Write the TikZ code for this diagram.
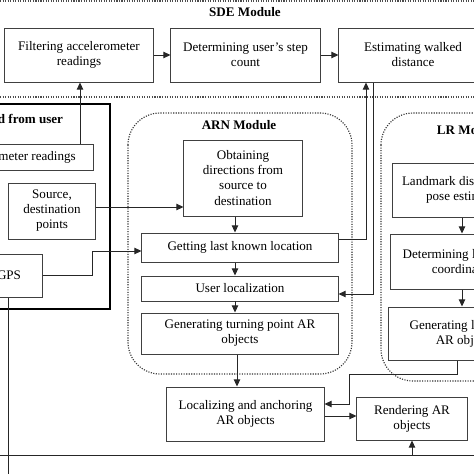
\documentclass[tikz,border=0pt]{standalone}
\usepackage{fontspec}
\setmainfont{Liberation Serif}
\usetikzlibrary{arrows.meta}

\begin{document}
\begin{tikzpicture}[x=0.025cm,y=-0.025cm,
    font=\fontsize{9.3}{10.7}\selectfont,
    box/.style={draw=black!75,line width=0.7pt,align=center,inner sep=1pt},
    title/.style={font=\fontsize{9.3}{10.7}\selectfont\bfseries},
    module/.style={draw=black!80,densely dotted,line width=0.8pt,rounded corners=0.8cm},
    sep/.style={draw=black!70,densely dotted,line width=0.8pt},
    wire/.style={draw=black!85,line width=0.7pt},
    arr/.style={wire,-{Triangle[length=5pt,width=4.5pt]}}]
    \useasboundingbox (0,0) rectangle (474,474);
    \clip (0,0) rectangle (474,474);

    % SDE module
    \draw[sep] (0,1) -- (474,1);
    \draw[sep] (0,97) -- (474,97);
    \node[title] (sdeT) at (245,12) {SDE Module};
    \node[box,minimum width=3.7cm,minimum height=1.35cm] (filt) at (79,55) {Filtering accelerometer\\readings};
    \node[box,minimum width=3.725cm,minimum height=1.35cm] (step) at (245.5,55) {Determining user's step\\count};
    \node[box,minimum width=3.7cm,minimum height=1.35cm] (dist) at (413,55) {Estimating walked\\distance};
    \draw[arr] (filt) -- (step);
    \draw[arr] (step) -- (dist);

    % inputs from user
    \draw[black,line width=1.3pt] (-100,104) rectangle (110,309);
    \node[title,anchor=east] (userT) at (68,119) {Data obtained from user};
    \node[box,minimum width=3.975cm,minimum height=0.65cm] (accel) at (13.5,157) {Accelerometer readings};
    \node[box,minimum width=2.15cm,minimum height=1.4cm] (src) at (52,211) {Source,\\destination\\points};
    \node[box,minimum width=1.65cm,minimum height=1.075cm] (gps) at (9,275.5) {GPS};

    % ARN module
    \draw[module] (128,113) rectangle (352,374);
    \node[title] (arnT) at (239,125) {ARN Module};
    \node[box,minimum width=2.95cm,minimum height=1.9cm] (obtain) at (243,178) {Obtaining\\directions from\\source to\\destination};
    \node[box,minimum width=4.9cm,minimum height=0.725cm] (last) at (240,247.5) {Getting last known location};
    \node[box,minimum width=4.9cm,minimum height=0.625cm] (loc) at (240,288.5) {User localization};
    \node[box,minimum width=4.9cm,minimum height=1.025cm] (turn) at (240,333.5) {Generating turning point AR\\objects};
    \node[box,minimum width=3.925cm,minimum height=1.35cm] (anc) at (245.5,414) {Localizing and anchoring\\AR objects};
    \node[box,minimum width=2.75cm,minimum height=1.075cm] (render) at (412,418.5) {Rendering AR\\objects};

    % LR module
    \draw[module] (381,113) rectangle (560,381);
    \node[title,anchor=west] (lrT) at (432,130) {LR Module};
    \node[box,minimum width=3.7cm,minimum height=1.35cm] (land) at (467,190) {Landmark discovery and\\pose estimation};
    \node[box,minimum width=3.55cm,minimum height=1.375cm] (coord) at (462,261.5) {Determining landmark\\coordinates};
    \node[box,minimum width=3.8cm,minimum height=1.325cm] (gen) at (465,333.5) {Generating landmark\\AR objects};

    \coordinate (ax) at (235,0);
    \coordinate (bl) at (0,455);
    \coordinate (br) at (474,455);
    \coordinate (gpsend) at (8,474);

    % connections
    \draw[arr] (accel.north -| 80,0) -- (filt.south -| 80,0);
    \draw[arr] (src.east |- 0,207) -- (obtain.west |- 0,207);
    \draw[arr] (gps.east) -| (92,251) -- (last.west |- 0,251);
    \draw[arr] (last.east |- 0,239) -| (dist.south -| 366,0);
    \draw[arr] (dist.south -| 373,0) |- (loc.east |- 0,294);
    \draw[arr] (obtain.south -| ax) -- (last.north -| ax);
    \draw[arr] (last.south -| ax) -- (loc.north -| ax);
    \draw[arr] (loc.south -| ax) -- (turn.north -| ax);
    \draw[arr] (turn.south -| 237,0) -- (anc.north -| 237,0);
    \draw[arr] (land.south -| coord) -- (coord.north);
    \draw[arr] (coord.south) -- (gen.north -| coord);
    \draw[arr] (gen.south -| 457,0) |- (349,374) |- (anc.east |- 0,404);
    \draw[arr] (anc.east |- 0,416) -- (render.west |- 0,416);
    \draw[wire] (bl) -- (br);
    \draw[arr] (render.south |- bl) -- (render.south);
    \draw[wire] (gps.south -| gpsend) -- (gpsend);
\end{tikzpicture}
\end{document}
